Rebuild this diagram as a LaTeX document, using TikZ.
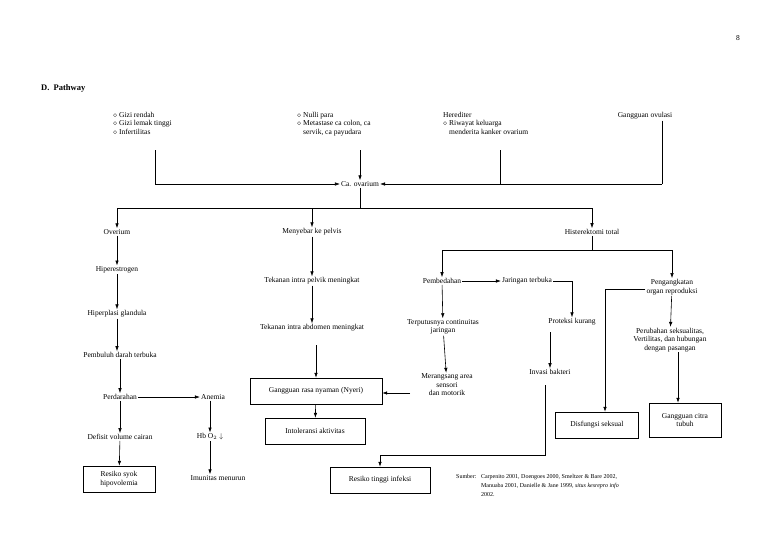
\documentclass[tikz,border=0pt]{standalone}
\usepackage{fontspec}
\setmainfont{Liberation Serif}
\usepackage{amssymb}
\usetikzlibrary{positioning, arrows.meta}

\tikzset{
  lbl/.style = {inner sep = 1pt, font = \fontsize{7.5}{8.5}\selectfont, align = center},
  box/.style = {draw, lbl, minimum height = 26pt, inner sep = 3pt},
  arr/.style = {-{Latex[length = 5pt, width = 3.5pt]}, semithick},
  ln/.style = {-, semithick}
}
\newcommand{\dia}{$\diamond$\ }

\begin{document}
\begin{tikzpicture}[x = 1pt, y = -1pt]
        \useasboundingbox (0, 0) rectangle (768, 543);

        \node[lbl] (pg) at (738, 38) {8};
        \node[lbl, anchor = west, font = \fontsize{8.5}{9}\selectfont\bfseries] (ttl) at (40, 88) {D.\ \ Pathway};

        % causes
        \node[lbl, anchor = north west, align = left] (gizi) at (112, 111) {\dia Gizi rendah\\ \dia Gizi lemak tinggi\\ \dia Infertilitas};
        \node[lbl, anchor = north west, align = left] (nulli) at (296, 111) {\dia Nulli para\\ \dia Metastase ca colon, ca\\ \phantom{\dia}servik, ca payudara};
        \node[lbl, anchor = north west, align = left] (here) at (442, 111) {Herediter\\ \dia Riwayat keluarga\\ \phantom{\dia}menderita kanker ovarium};
        \node[lbl] (ovul) at (645, 116) {Gangguan ovulasi};
        \node[lbl] (ca) at (360, 184) {Ca. ovarium};

        \coordinate (c1) at (155, 184);
        \coordinate (c2) at (500, 184);
        \coordinate (c3) at (662, 184);
        \draw[ln] (155, 150) -- (c1);
        \draw[arr] (c1) -- (ca.west);
        \draw[arr] (360, 150) -- (ca.north);
        \draw[ln] (500, 150) -- (c2);
        \draw[ln] (ovul.south -| c3) -- (c3);
        \draw[arr] (c3) -- (ca.east);

        % three branches
        \node[lbl] (ovr) at (117, 232) {Overium};
        \node[lbl] (meny) at (312, 232) {Menyebar ke pelvis};
        \node[lbl] (hist) at (592, 232) {Histerektomi total};
        \coordinate (sp) at (360, 208);
        \draw[ln] (ca.south) -- (sp);
        \draw[arr] (sp) -| (ovr.north);
        \draw[arr] (sp) -| (meny.north);
        \draw[arr] (sp) -| (hist.north);

        % left column
        \node[lbl] (hipe) at (117, 270) {Hiperestrogen};
        \node[lbl] (hipl) at (117, 314) {Hiperplasi glandula};
        \node[lbl] (pemb) at (120, 355) {Pembuluh darah terbuka};
        \node[lbl] (perd) at (120, 397) {Perdarahan};
        \node[lbl] (defi) at (120, 437) {Defisit volume cairan};
        \node[box, minimum width = 72pt] (syok) at (119, 479) {Resiko syok\\ hipovolemia};
        \node[lbl] (anem) at (213, 397) {Anemia};
        \node[lbl] (hbo) at (210, 437) {Hb O$_2$ $\downarrow$};
        \node[lbl] (imun) at (218, 478) {Imunitas menurun};
        \draw[arr] (ovr) -- (hipe);
        \draw[arr] (hipe) -- (hipl);
        \draw[arr] (hipl) -- (hipl |- pemb.north);
        \draw[arr] (pemb) -- (perd);
        \draw[arr] (perd) -- (defi);
        \draw[arr] (defi) -- (syok);
        \draw[arr] (perd) -- (anem);
        \draw[arr] (anem.south -| hbo) -- (hbo);
        \draw[arr] (hbo) -- (hbo |- imun.north);

        % middle column
        \node[lbl] (pelv) at (312, 281) {Tekanan intra pelvik meningkat};
        \node[lbl] (abdo) at (312, 328) {Tekanan intra abdomen meningkat};
        \node[box, minimum width = 132pt] (nyer) at (316, 391) {Gangguan rasa nyaman (Nyeri)};
        \node[box, minimum width = 100pt] (into) at (315, 431) {Intoleransi aktivitas};
        \node[box, minimum width = 100pt] (infk) at (380, 480) {Resiko tinggi infeksi};
        \draw[arr] (meny) -- (pelv);
        \draw[arr] (pelv) -- (abdo);
        \draw[arr] (316, 345) -- (nyer.north);
        \draw[arr] (nyer) -- (into);

        % right part
        \node[lbl] (bedh) at (442, 281) {Pembedahan};
        \node[lbl] (jari) at (527, 281) {Jaringan terbuka};
        \node[lbl] (angk) at (672, 287) {Pengangkatan\\ organ reproduksi};
        \node[lbl] (terp) at (443, 327) {Terputusnya continuitas\\ jaringan};
        \node[lbl] (mera) at (447, 385) {Merangsang area\\ sensori\\ dan motorik};
        \node[lbl] (prot) at (572, 322) {Proteksi kurang};
        \node[lbl] (inva) at (550, 372) {Invasi bakteri};
        \node[lbl] (peru) at (670, 340) {Perubahan seksualitas,\\ Vertilitas, dan hubungan\\ dengan pasangan};
        \node[box, minimum width = 83pt] (disf) at (597, 425) {Disfungsi seksual};
        \node[box, minimum width = 72pt, minimum height = 34pt] (citr) at (685, 420) {Gangguan citra\\ tubuh};

        \coordinate (hs) at (592, 250);
        \draw[ln] (hist.south) -- (hs);
        \draw[arr] (hs) -| (bedh.north);
        \draw[arr] (hs) -| (angk.north);
        \draw[arr] (bedh) -- (jari);
        \draw[arr] (jari.east) -| (prot.north);
        \draw[arr] (bedh) -- (terp);
        \draw[arr] (terp) -- (mera);
        \draw[arr] (410, 393) -- (nyer.east |- 0, 393);
        \draw[arr] (550, 332) -- (inva.north);
        \coordinate (ib) at (545, 455);
        \draw[arr] (545, 385) -- (ib) -| (infk.north);
        \draw[arr] (angk) -- (peru);
        \coordinate (ab) at (605, 289);
        \draw[arr] (angk.west |- ab) -- (ab) -- (disf.north -| ab);
        \draw[arr] (678, 352) -- (citr.north -| 678, 0);

        \node[lbl, anchor = north west, align = left, font = \fontsize{6}{9}\selectfont] (sumb) at (455, 473)
          {Sumber:\ \ \ Carpenito 2001, Doengoes 2000, Smeltzer \& Bare 2002,\\
           \phantom{Sumber:\ \ \ }Manuaba 2001, Danielle \& Jane 1999, \textit{situs kesrepro info}\\
           \phantom{Sumber:\ \ \ }2002.};
      \end{tikzpicture}
\end{document}
